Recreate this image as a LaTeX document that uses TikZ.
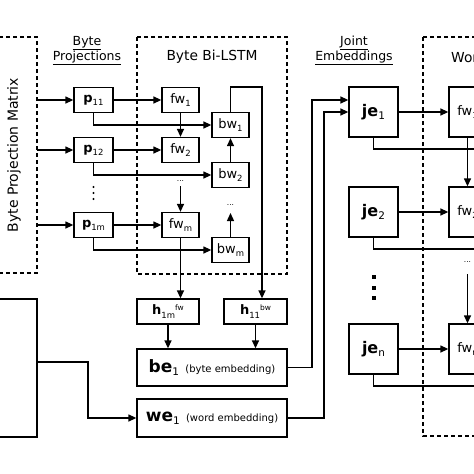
\documentclass[tikz,border=0pt]{standalone}
\usepackage{fontspec}
\setmainfont{DejaVu Sans}
\usetikzlibrary{arrows.meta}

\newcommand{\lsub}[2][8.5]{\raisebox{-0.45ex}{\fontsize{#1}{#1}\selectfont #2}}
\newcommand{\lsup}[2][7.5]{\raisebox{0.55ex}{\fontsize{#1}{#1}\selectfont #2}}

\tikzset{
  blk/.style={draw, line width=1.3pt, inner sep=0pt, font=\fontsize{13}{15}\selectfont},
  pbox/.style={blk, minimum width=39pt, minimum height=25pt},
  lstm/.style={blk, minimum width=37pt, minimum height=25pt},
  hbox/.style={blk, minimum width=62pt, minimum height=25pt},
  embox/.style={blk, minimum width=150pt, minimum height=37pt},
  jbox/.style={blk, minimum width=49pt, minimum height=50pt},
  wfbox/.style={blk, minimum width=37pt, minimum height=50pt},
  grp/.style={draw, line width=1.3pt, dash pattern=on 4pt off 3pt},
  ttl/.style={font=\fontsize{12.5}{14}\selectfont, inner sep=0pt},
  conn/.style={line width=1.3pt},
  arr/.style={conn, -{Triangle[length=8pt,width=7pt]}},
}

\begin{document}
\begin{tikzpicture}[x=1pt,y=-1pt]
    \useasboundingbox (0,0) rectangle (474,474);
    \clip (0,0) rectangle (474,474);

    % group frames
    \draw[grp] (-10,37) rectangle (37,273);
    \draw[grp] (137,37) rectangle (287,274);
    \draw[grp] (423,37) rectangle (495,436);
    \node[ttl, font=\fontsize{14}{16}\selectfont, rotate=90] (bpm) at (14,155) {Byte Projection Matrix};
    \node[ttl] (bpt1) at (87,43) {\underline{Byte}};
    \node[ttl] (bpt2) at (87,58) {\underline{Projections}};
    \node[ttl, font=\fontsize{13.8}{16}\selectfont] (blt) at (212,57) {Byte Bi-LSTM};
    \node[ttl] (jet1) at (354,43) {\underline{Joint}};
    \node[ttl] (jet2) at (354,58) {\underline{Embeddings}};
    \node[ttl, font=\fontsize{13.8}{16}\selectfont, anchor=west] (wlt) at (451,57) {Word Bi-LSTM};

    % byte projections
    \node[pbox] (p11) at (93.5,100) {\textbf{p}\lsub{11}};
    \node[pbox] (p12) at (93.5,150) {\textbf{p}\lsub{12}};
    \foreach \y in {187,193,199}
        \fill (93.5,\y) circle (1.2pt);
    \node[pbox] (p1m) at (93.5,225) {\textbf{p}\lsub{1m}};

    % byte bi-lstm
    \node[lstm] (fw1) at (180.5,100) {fw\lsub{1}};
    \node[lstm] (fw2) at (180.5,150) {fw\lsub{2}};
    \node[inner sep=0pt, font=\fontsize{7.5}{7.5}\selectfont] (fwdots) at (180.5,181) {...};
    \node[lstm] (fwm) at (180.5,225) {fw\lsub{m}};
    \node[lstm] (bw1) at (230.5,125) {bw\lsub{1}};
    \node[lstm] (bw2) at (230.5,175) {bw\lsub{2}};
    \node[inner sep=0pt, font=\fontsize{7.5}{7.5}\selectfont] (bwdots) at (230.5,205) {...};
    \node[lstm] (bwm) at (230.5,250) {bw\lsub{m}};

    \node[hbox] (h1m) at (168,311.5) {\textbf{h}\lsub{1m}\lsup{fw}};
    \node[hbox, minimum width=63pt] (h11) at (255.5,311.5) {\textbf{h}\lsub{11}\lsup{bw}};

    \node[embox] (be1) at (212,367.5) {{\fontsize{17}{19}\selectfont\textbf{be}}\lsub[10.5]{1}\,
        {\fontsize{10}{12}\selectfont (byte embedding)}};
    \node[embox, minimum height=38pt] (we1) at (212,418) {{\fontsize{17}{19}\selectfont\textbf{we}}\lsub[10.5]{1}\,
        {\fontsize{10}{12}\selectfont (word embedding)}};
    \node[blk, minimum width=47pt, minimum height=138pt] (wordin) at (13.5,368) {};

    % joint embeddings
    \node[jbox] (je1) at (373.5,112) {{\fontsize{16}{18}\selectfont\textbf{je}}\lsub[10.5]{1}};
    \node[jbox] (je2) at (373.5,212) {{\fontsize{16}{18}\selectfont\textbf{je}}\lsub[10.5]{2}};
    \foreach \y in {277,287.5,298}
        \fill (371.5,\y-2) rectangle ++(4,4);
    \node[jbox] (jen) at (373.5,349) {{\fontsize{16}{18}\selectfont\textbf{je}}\lsub[10.5]{n}};

    % word bi-lstm
    \node[wfbox] (wfw1) at (467.5,112) {fw\lsub{1}};
    \node[wfbox] (wfw2) at (467.5,212) {fw\lsub{2}};
    \node[inner sep=0pt, font=\fontsize{7.5}{7.5}\selectfont] (wdots) at (467.5,262) {...};
    \node[wfbox] (wfwn) at (467.5,349) {fw\lsub{n}};

    % connectors
    \coordinate (bpm1) at (37,100);
    \coordinate (bpm2) at (37,150);
    \coordinate (bpm3) at (37,225);
    \draw[arr] (bpm1) -- (p11.west);
    \draw[arr] (bpm2) -- (p12.west);
    \draw[arr] (bpm3) -- (p1m.west);
    \draw[arr] (p11.east) -- (fw1.west);
    \draw[arr] (p12.east) -- (fw2.west);
    \draw[arr] (p1m.east) -- (fwm.west);
    \draw[arr] (p11.south) |- (bw1.west);
    \draw[arr] (p12.south) |- (bw2.west);
    \draw[arr] (p1m.south) |- (bwm.west);
    \draw[arr] (fw1.south) -- (fw2.north);
    \draw[arr] ([yshift=-5pt]fwdots.center) -- (fwm.north);
    \draw[arr] (bw2.north) -- (bw1.south);
    \draw[arr] (bwm.north) -- ([yshift=-8pt]bwdots.center);

    \coordinate (bwturn) at (262,87);
    \draw[arr] (bw1.north) |- (bwturn) -- (bwturn |- h11.north);
    \draw[arr] (fwm.south) -- (fwm.south |- h1m.north);
    \draw[arr] (h1m.south) -- (h1m.south |- be1.north);
    \draw[arr] (h11.south) -- (h11.south |- be1.north);

    \coordinate (wtap) at (37,362);
    \coordinate (wbend) at (88,362);
    \draw[arr] (wtap) -- (wbend) |- (we1.west);

    \coordinate (beup) at (312,100);
    \coordinate (weup) at (324,112);
    \draw[arr] (be1.east) -| (beup) -- ([yshift=12pt]je1.west);
    \draw[arr] (we1.east) -| (weup) -- (je1.west);

    \draw[arr] (je1.east) -- (wfw1.west);
    \draw[arr] (je2.east) -- (wfw2.west);
    \draw[arr] (jen.east) -- (wfwn.west);
    \coordinate (jeout1) at (495,149);
    \coordinate (jeout2) at (495,249);
    \coordinate (jeoutn) at (495,386);
    \draw[conn] (je1.south) |- (jeout1);
    \draw[conn] (je2.south) |- (jeout2);
    \draw[conn] (jen.south) |- (jeoutn);

    \draw[arr] (wfw1.south) -- (wfw2.north);
    \draw[arr] ([yshift=-12pt]wdots.center) -- (wfwn.north);
\end{tikzpicture}
\end{document}
